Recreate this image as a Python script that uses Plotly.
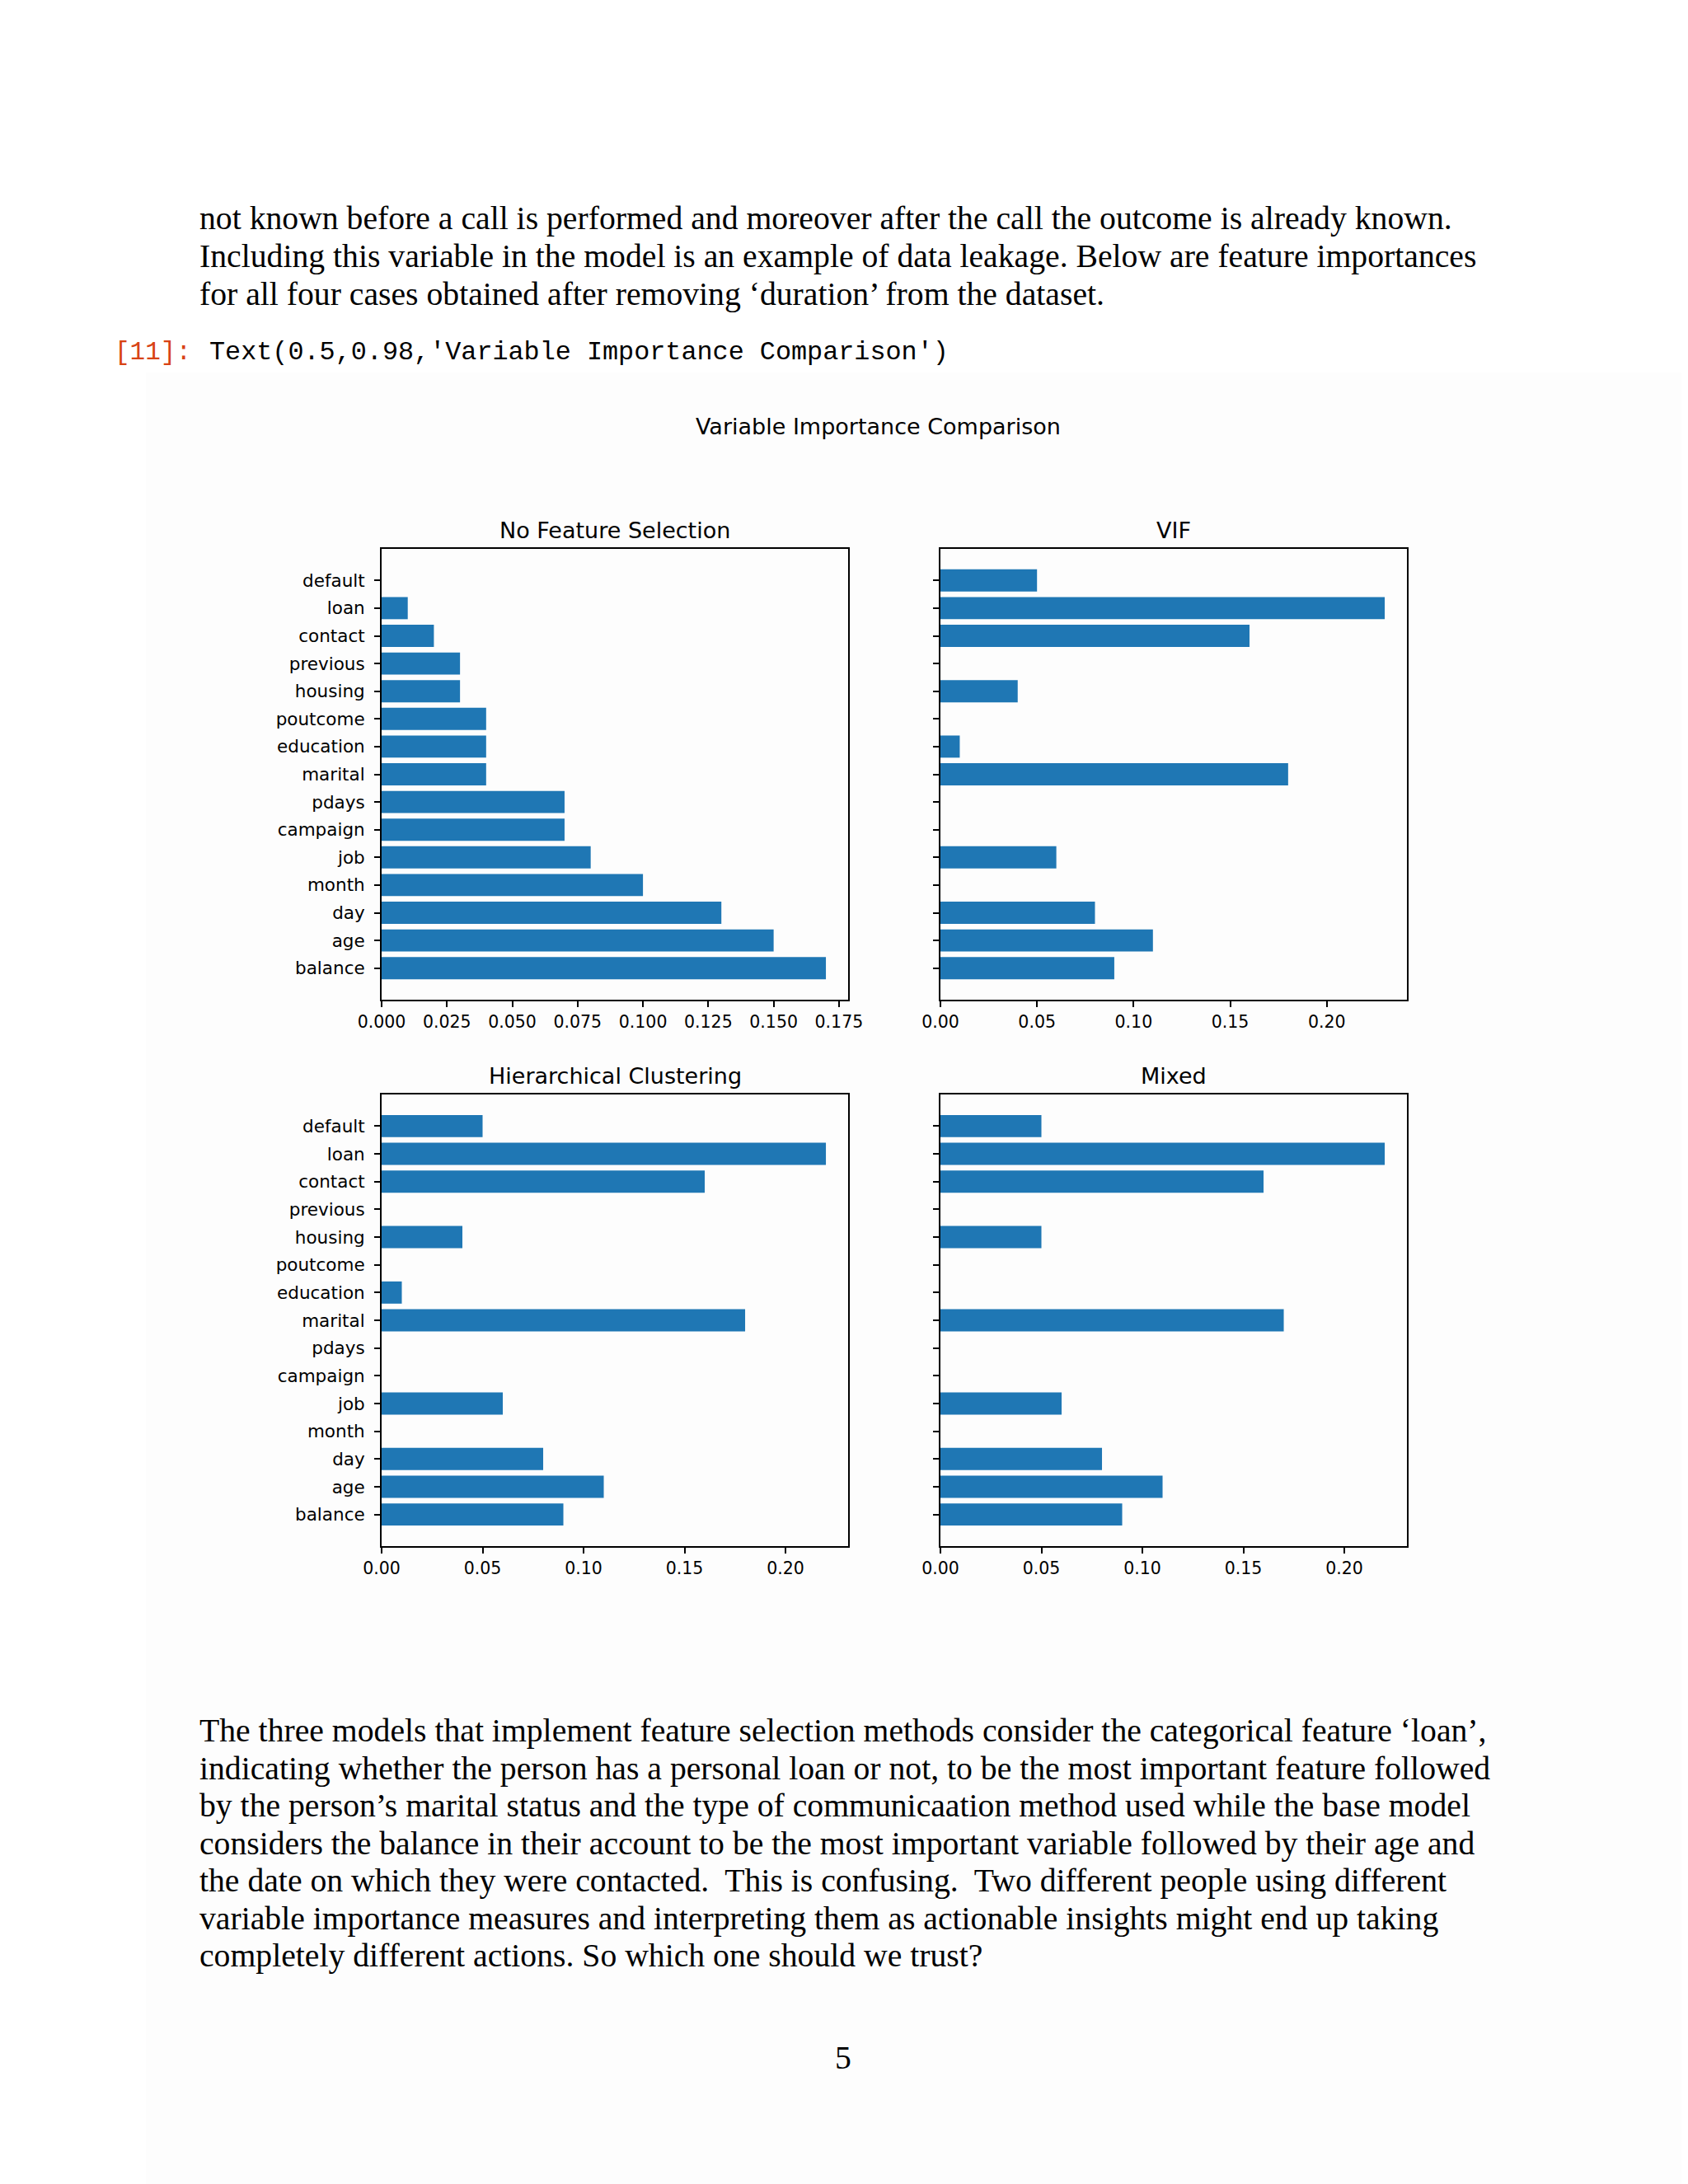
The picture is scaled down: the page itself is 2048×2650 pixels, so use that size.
import plotly.graph_objects as go

W, H = 2048, 2650
OX, OY = -8, -8  # compensate page body margin

features = ["balance", "age", "day", "month", "job", "campaign", "pdays",
            "marital", "education", "poutcome", "housing", "previous",
            "contact", "loan", "default"]

no_feature_selection = [0.17, 0.15, 0.13, 0.10, 0.08, 0.07, 0.07,
                        0.04, 0.04, 0.04, 0.03, 0.03, 0.02, 0.01, 0.0]
vif = [0.09, 0.11, 0.08, 0.0, 0.06, 0.0, 0.0,
       0.18, 0.01, 0.0, 0.04, 0.0, 0.16, 0.23, 0.05]
hierarchical = [0.09, 0.11, 0.08, 0.0, 0.06, 0.0, 0.0,
                0.18, 0.01, 0.0, 0.04, 0.0, 0.16, 0.22, 0.05]
mixed = [0.09, 0.11, 0.08, 0.0, 0.06, 0.0, 0.0,
         0.17, 0.0, 0.0, 0.05, 0.0, 0.16, 0.22, 0.05]

panel_titles = ["No Feature Selection", "VIF", "Hierarchical Clustering", "Mixed"]
suptitle = "Variable Importance Comparison"

top_text = [
    "not known before a call is performed and moreover after the call the outcome is already known.",
    "Including this variable in the model is an example of data leakage. Below are feature importances",
    "for all four cases obtained after removing \u2018duration\u2019 from the dataset.",
]
prompt_text = "[11]:"
output_text = "Text(0.5,0.98,'Variable Importance Comparison')"
bottom_text = [
    "The three models that implement feature selection methods consider the categorical feature \u2018loan\u2019,",
    "indicating whether the person has a personal loan or not, to be the most important feature followed",
    "by the person\u2019s marital status and the type of communicaation method used while the base model",
    "considers the balance in their account to be the most important variable followed by their age and",
    "the date on which they were contacted.  This is confusing.  Two different people using different",
    "variable importance measures and interpreting them as actionable insights might end up taking",
    "completely different actions. So which one should we trust?",
]
page_number = "5"


def px_x(x):
    return (x + OX) / W


def px_y(y):
    return 1 - (y + OY) / H


BAR = "#1f77b4"
MPL_FONT = "DejaVu Sans"

# panel boxes in pixels: (left, right, top, bottom)
boxes = [
    (463, 1029, 666, 1213),
    (1141, 1707, 666, 1213),
    (463, 1029, 1328, 1876),
    (1141, 1707, 1328, 1876),
]
series = [no_feature_selection, vif, hierarchical, mixed]
show_labels = [True, False, True, False]

fig = go.Figure()

n = len(features)
ylo = -0.4 - 0.05 * (n - 1 + 0.8)
yhi = (n - 1) + 0.4 + 0.05 * (n - 1 + 0.8)

for i, (vals, box) in enumerate(zip(series, boxes)):
    k = "" if i == 0 else str(i + 1)
    fig.add_trace(go.Bar(
        x=vals, y=features, orientation="h",
        marker=dict(color=BAR, line=dict(width=0)),
        xaxis="x" + k, yaxis="y" + k, showlegend=False,
        width=0.8,
    ))
    l, r, t, b = box
    vmax = max(vals)
    xmax = vmax * 1.05
    if i == 0:
        tickvals = [0.0, 0.025, 0.05, 0.075, 0.1, 0.125, 0.15, 0.175]
        fmt = ".3f"
    else:
        tickvals = [0.0, 0.05, 0.1, 0.15, 0.2]
        fmt = ".2f"
    common = dict(showline=True, mirror=True, linecolor="black", linewidth=2,
                  ticks="outside", ticklen=7, tickwidth=2, tickcolor="black",
                  showgrid=False, zeroline=False, automargin=False)
    fig.layout["xaxis" + k] = dict(
        domain=[px_x(l), px_x(r)], anchor="y" + k, range=[0, xmax],
        tickvals=tickvals, tickformat=fmt, fixedrange=True,
        tickfont=dict(family=MPL_FONT, size=20.5, color="black"), **common)
    fig.layout["yaxis" + k] = dict(
        domain=[px_y(b), px_y(t)], anchor="x" + k, type="category",
        categoryorder="array", categoryarray=features, range=[ylo, yhi],
        showticklabels=show_labels[i], fixedrange=True, ticklabelstandoff=7,
        tickfont=dict(family=MPL_FONT, size=21.5, color="black"), **common)
    fig.add_annotation(
        x=px_x((l + r) / 2), y=px_y(t - 5), xref="paper", yref="paper",
        text=panel_titles[i], showarrow=False, xanchor="center", yanchor="bottom",
        font=dict(family=MPL_FONT, size=27, color="black"))

fig.add_annotation(
    x=px_x(1065), y=px_y(517), xref="paper", yref="paper", text=suptitle,
    showarrow=False, xanchor="center", yanchor="middle",
    font=dict(family=MPL_FONT, size=27, color="black"))

SERIF = "Liberation Serif"
for j, line in enumerate(top_text):
    fig.add_annotation(
        x=px_x(240), y=px_y(265 + 46 * j), xref="paper", yref="paper", text=line,
        showarrow=False, xanchor="left", yanchor="middle",
        font=dict(family=SERIF, size=39.7, color="black"))

fig.add_annotation(
    x=px_x(137), y=px_y(428), xref="paper", yref="paper", text=prompt_text,
    showarrow=False, xanchor="left", yanchor="middle",
    font=dict(family="Liberation Mono", size=31, color="#d84315"))
fig.add_annotation(
    x=px_x(252), y=px_y(428), xref="paper", yref="paper", text=output_text,
    showarrow=False, xanchor="left", yanchor="middle",
    font=dict(family="Liberation Mono", size=31.8, color="black"))

for j, line in enumerate(bottom_text):
    fig.add_annotation(
        x=px_x(240), y=px_y(2100 + 45.5 * j), xref="paper", yref="paper", text=line,
        showarrow=False, xanchor="left", yanchor="middle",
        font=dict(family=SERIF, size=39.7, color="black"))

fig.add_annotation(
    x=px_x(1023), y=px_y(2497), xref="paper", yref="paper", text=page_number,
    showarrow=False, xanchor="center", yanchor="middle",
    font=dict(family=SERIF, size=39.7, color="black"))

fig.add_shape(type="rect", xref="paper", yref="paper",
              x0=px_x(177), x1=px_x(2042), y0=0, y1=px_y(452),
              fillcolor="#fdfdfd", line=dict(width=0), layer="below")

fig.update_layout(
    width=W, height=H, margin=dict(l=0, r=0, t=0, b=0, autoexpand=False),
    paper_bgcolor="white", plot_bgcolor="white", bargap=0.2,
)

fig.write_html("out.html")
